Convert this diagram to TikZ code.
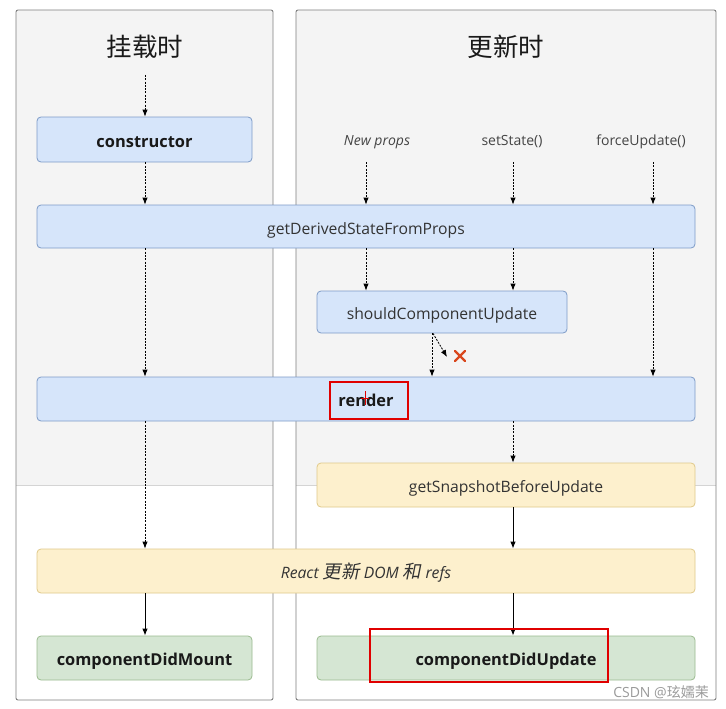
\documentclass[tikz,border=0pt]{standalone}
\usepackage{fontspec}
\setmainfont{Open Sans}
\newfontfamily\cjk{Noto Sans CJK SC}
\newfontfamily\cjksl{Noto Sans CJK SC}[FakeSlant=0.2]
\usetikzlibrary{arrows.meta}
\definecolor{panelgray}{HTML}{F4F4F4}
\definecolor{panelline}{HTML}{7F7F7F}
\definecolor{sepline}{HTML}{D4D4D4}
\definecolor{bfill}{HTML}{D6E5FA}
\definecolor{bdraw}{HTML}{7D9BC7}
\definecolor{yfill}{HTML}{FDF0CD}
\definecolor{ydraw}{HTML}{E0C98A}
\definecolor{gfill}{HTML}{D5E6D3}
\definecolor{gdraw}{HTML}{9BBB8F}
\definecolor{txt}{HTML}{333333}
\definecolor{lbl}{HTML}{444444}
\definecolor{hired}{HTML}{E00000}
\definecolor{xred}{HTML}{D9481E}
\definecolor{wmgray}{HTML}{9A9A9A}
\tikzset{
  panelbox/.style={draw=panelline, line width=0.9pt, rounded corners=2pt},
  box/.style={rectangle, rounded corners=4pt, line width=0.8pt, inner sep=0pt, anchor=center, text height=15pt, text depth=0pt},
  bluebox/.style={box, fill=bfill, draw=bdraw},
  yellowbox/.style={box, fill=yfill, draw=ydraw},
  greenbox/.style={box, fill=gfill, draw=gdraw},
  regtext/.style={text=txt, font=\fontsize{15.7}{18}\selectfont},
  boldtext/.style={text=black!90, font=\bfseries\fontsize{16.4}{19}\selectfont},
  toplabel/.style={text=lbl, font=\fontsize{14}{16}\selectfont, inner sep=1pt},
  title/.style={text=black!90, font=\cjk\fontsize{25.5}{29}\selectfont},
  dasharr/.style={-{Latex[length=7pt,width=5.5pt]}, line width=0.85pt, dash pattern=on 2pt off 1.3pt},
  solarr/.style={-{Latex[length=7pt,width=5.5pt]}, line width=0.95pt},
  hilite/.style={draw=hired, line width=1.8pt}
}
\begin{document}
\begin{tikzpicture}[x=1pt,y=-1pt]
\useasboundingbox (0,0) rectangle (726,709);
\fill[white] (0,0) rectangle (726,709);
% panels
\fill[panelgray] (16,10) rectangle (273,485);
\fill[panelgray] (296,10) rectangle (716,485);
\draw[sepline, line width=0.8pt] (16,485) -- (273,485);
\draw[sepline, line width=0.8pt] (296,485) -- (716,485);
\draw[panelbox] (16,10) rectangle (273,700);
\draw[panelbox] (296,10) rectangle (716,700);
% titles
\node[title] (t1) at (145,47) {挂载时};
\node[title] (t2) at (506,47) {更新时};
% boxes
\node[bluebox, minimum width=215pt, minimum height=45pt, boldtext] (constructor) at (144.5,139.5) {constructor};
\node[bluebox, minimum width=658pt, minimum height=43pt, regtext] (gdsfp) at (366,226.5) {getDerivedStateFromProps};
\node[bluebox, minimum width=250pt, minimum height=42pt, regtext] (scu) at (442,312) {shouldComponentUpdate};
\node[bluebox, minimum width=658pt, minimum height=44pt, boldtext] (render) at (366,399) {render};
\node[yellowbox, minimum width=378pt, minimum height=44pt, regtext] (gsbu) at (506,485) {getSnapshotBeforeUpdate};
\node[yellowbox, minimum width=658pt, minimum height=44pt, regtext] (react) at (366,571) {\itshape React {\cjksl\fontsize{18.5}{20}\selectfont 更新} DOM {\cjksl\fontsize{18.5}{20}\selectfont 和} refs};
\node[greenbox, minimum width=215pt, minimum height=44pt, boldtext] (cdm) at (144.5,658) {componentDidMount};
\node[greenbox, minimum width=378pt, minimum height=44pt, boldtext] (cdu) at (506,658) {componentDidUpdate};
% top labels
\node[toplabel, font=\itshape\fontsize{14}{16}\selectfont] (np) at (377,142) {New props};
\node[toplabel] (ss) at (512,142) {setState()};
\node[toplabel] (fu) at (641,142) {forceUpdate()};
% x positions
\coordinate (xL) at (145,0);
\coordinate (xN) at (366,0);
\coordinate (xS) at (513,0);
\coordinate (xF) at (653,0);
\coordinate (xC) at (432,0);
\coordinate (start) at (145,75);
\coordinate (skip) at (447,357);
% arrows left column
\draw[dasharr] (start) -- (constructor.north -| xL);
\draw[dasharr] (constructor.south -| xL) -- (gdsfp.north -| xL);
\draw[dasharr] (gdsfp.south -| xL) -- (render.north -| xL);
\draw[dasharr] (render.south -| xL) -- (react.north -| xL);
\draw[solarr] (react.south -| xL) -- (cdm.north -| xL);
% arrows right
\draw[dasharr] ([yshift=-20pt]np.center -| xN) -- (gdsfp.north -| xN);
\draw[dasharr] ([yshift=-20pt]ss.center -| xS) -- (gdsfp.north -| xS);
\draw[dasharr] ([yshift=-20pt]fu.center -| xF) -- (gdsfp.north -| xF);
\draw[dasharr] (gdsfp.south -| xN) -- (scu.north -| xN);
\draw[dasharr] (gdsfp.south -| xS) -- (scu.north -| xS);
\draw[dasharr] (gdsfp.south -| xF) -- (render.north -| xF);
\draw[dasharr] (scu.south -| xC) -- (render.north -| xC);
\draw[dasharr] ([xshift=1pt]scu.south -| xC) -- (skip);
\draw[dasharr] (render.south -| xS) -- (gsbu.north -| xS);
\draw[solarr] (gsbu.south -| xS) -- (react.north -| xS);
\draw[solarr] (react.south -| xS) -- (cdu.north -| xS);
% red cross
\draw[xred, line width=2.4pt, line cap=round] (455,351) -- (465,361) (455,361) -- (465,351);
% highlights
\draw[hilite] (330,382) rectangle (408,419);
\draw[hilite] (370,629) rectangle (608,682);
\draw[hired, line width=1pt] (365,391) -- (365,405) (361,398) -- (369,398);
% watermark
\node[text=wmgray, font=\fontsize{14}{16}\selectfont, inner sep=0pt] (wm) at (661,692) {CSDN @{\cjk 玹嬬茉}};
\end{tikzpicture}
\end{document}
